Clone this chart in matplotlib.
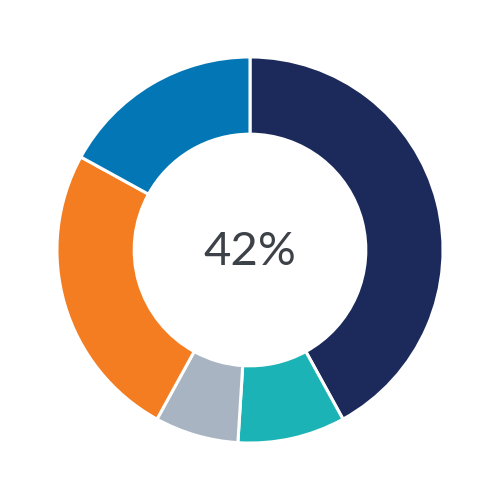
import matplotlib
matplotlib.use("Agg")
import matplotlib.pyplot as plt

# segment shares, clockwise from 12 o'clock
labels = ["Navy", "Teal", "Gray", "Orange", "Blue"]
values = [42, 9, 7, 25, 17]
colors = ["#1b2a5a", "#1bb3b5", "#a9b4c2", "#f37d20", "#0377b6"]
center_text = "42%"

fig = plt.figure(figsize=(5, 5), dpi=100)
ax = fig.add_axes([0, 0, 1, 1])
ax.pie(values, colors=colors, startangle=90, counterclock=False,
       radius=1.0, wedgeprops=dict(width=0.4, edgecolor="white", linewidth=2.2))
ax.set_xlim(-1.295, 1.295)
ax.set_ylim(-1.295, 1.295)
ax.set_aspect("equal")
ax.axis("off")
ax.text(0, -0.01, center_text, ha="center", va="center", fontsize=34,
        color="#3d4148", family=["Lato", "DejaVu Sans"])

fig.savefig("out.png", dpi=100)
